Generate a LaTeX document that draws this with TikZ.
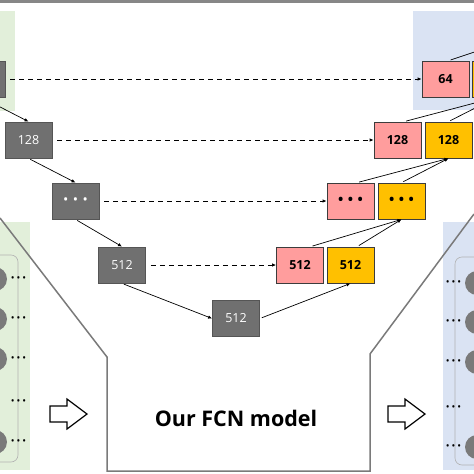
\documentclass[tikz,border=0pt]{standalone}
\usepackage{fontspec}
\setmainfont{Open Sans}
\usepackage{xcolor}
\usepackage{tikz}
\usetikzlibrary{arrows.meta,calc,positioning}
\definecolor{encgray}{HTML}{707070}
\definecolor{encline}{HTML}{555555}
\definecolor{catpink}{HTML}{FF9D9D}
\definecolor{upyellow}{HTML}{FFC000}
\definecolor{boxline}{HTML}{3C3C3C}
\definecolor{greenpanel}{HTML}{E2EFDA}
\definecolor{bluepanel}{HTML}{DAE3F3}
\definecolor{framegray}{HTML}{7A7A7A}
\newcommand{\dotsrow}[2]{{\fontsize{#1}{#1}\selectfont •\hspace{#2}•\hspace{#2}•}}

\begin{document}
\begin{tikzpicture}[x=1pt,y=-1pt,>={Latex[length=4pt,width=3.5pt]},
  box/.style={draw,line width=0.8pt,minimum width=47pt,minimum height=36pt,inner sep=0pt,font=\fontsize{12.5}{14}\selectfont},
  enc/.style={box,fill=encgray,draw=encline,text=white},
  cat/.style={box,fill=catpink,draw=boxline,font=\fontsize{12.5}{14}\selectfont\bfseries},
  upc/.style={box,fill=upyellow,draw=boxline,font=\fontsize{12.5}{14}\selectfont\bfseries},
  skip/.style={->,line width=1pt,dash pattern=on 5pt off 4pt,shorten <=5pt},
  flow/.style={->,line width=0.7pt,shorten <=2pt},
  neuron/.style={circle,fill=framegray,minimum size=24pt,inner sep=0pt},
  ndots/.style={inner sep=0pt}]
  \useasboundingbox (0,0) rectangle (474,474);
  \fill[white] (0,0) rectangle (474,474);
  \fill[framegray!90] (-5,-5) rectangle (480,3);
  \fill[greenpanel] (-5,11) rectangle (15,111);
  \fill[greenpanel] (-5,222) rectangle (30,470);
  \fill[bluepanel] (413,11) rectangle (480,110);
  \fill[bluepanel] (443,222) rectangle (480,470);
  \draw[gray!60,rounded corners=7pt,line width=0.6pt] (-20,255) rectangle (18,462);
  \draw[gray!60,rounded corners=7pt,line width=0.6pt] (455,257) rectangle (495,465);
  \foreach \n/\y in {1/279,2/319,3/359,5/442} \node[neuron] (l\n) at (-5,\y) {};
  \foreach \n/\y in {1/279,2/319,3/359,4/402,5/442} \node[ndots] (ld\n) at (18.5,\y) {\dotsrow{10}{2pt}};
  \foreach \n/\y in {1/283,2/322,3/362,5/447} \node[neuron] (r\n) at (477,\y) {};
  \foreach \n/\y in {1/283,2/322,3/362,4/408,5/447} \node[ndots] (rd\n) at (453.5,\y) {\dotsrow{10}{2pt}};
  \draw[framegray,line width=1.5pt] (0,218) -- (107,357) -- (107,471) -- (370,471) -- (370,354) -- (474,214);
  \node[font=\fontsize{21.5}{26}\selectfont\bfseries] (title) at (236,418) {Our FCN model};
  \foreach \ax in {50,388}
    \draw[line width=1.2pt,fill=white] (\ax,406) -- ++(17,0) -- ++(0,-7) -- ++(20,15) -- ++(-20,15) -- ++(0,-7) -- ++(-17,0) -- cycle;
  \node[enc] (e1) at (-18.5,79) {};
  \node[enc] (e2) at (28.5,140) {128};
  \node[enc] (e3) at (75.5,201) {\dotsrow{14}{4.5pt}};
  \node[enc] (e4) at (122,265) {512};
  \node[enc] (e5) at (236,318.5) {512};
  \node[cat] (d1p) at (445.5,79) {64};
  \node[upc] (d1y) at (496,79) {};
  \node[cat] (d2p) at (397.5,140) {128};
  \node[upc] (d2y) at (448.5,140) {128};
  \node[cat] (d3p) at (350.5,201) {\dotsrow{14}{4.5pt}};
  \node[upc] (d3y) at (401.5,201) {\dotsrow{14}{4.5pt}};
  \node[cat] (d4p) at (300,265) {512};
  \node[upc] (d4y) at (350.5,265) {512};
  \coordinate (d0) at (540,30);
  \foreach \a/\b in {e1/d1p,e2/d2p,e3/d3p,e4/d4p} \draw[skip] (\a) -- (\b);
  \draw[flow,shorten <=0pt] (e1.south) -- (e2.north);
  \draw[flow] (e2.south) -- (e3.north);
  \draw[flow] (e3.south) -- (e4.north);
  \draw[flow] (e4.south) -- (e5.west);
  \draw[flow] (e5.east) -- (d4y.south);
  \draw[flow] (d4p.60) -- (d3y.south);
  \draw[flow] (d4y.70) -- (d3y.south);
  \draw[flow] (d3p.70) -- (d2y.south);
  \draw[flow] (d3y.north) -- (d2y.south);
  \draw[flow] (d2p.70) -- (d1y.south);
  \draw[flow] (d2y.north) -- (d1y.south);
  \draw[flow] (d1p.80) -- (d0);
\end{tikzpicture}
\end{document}
